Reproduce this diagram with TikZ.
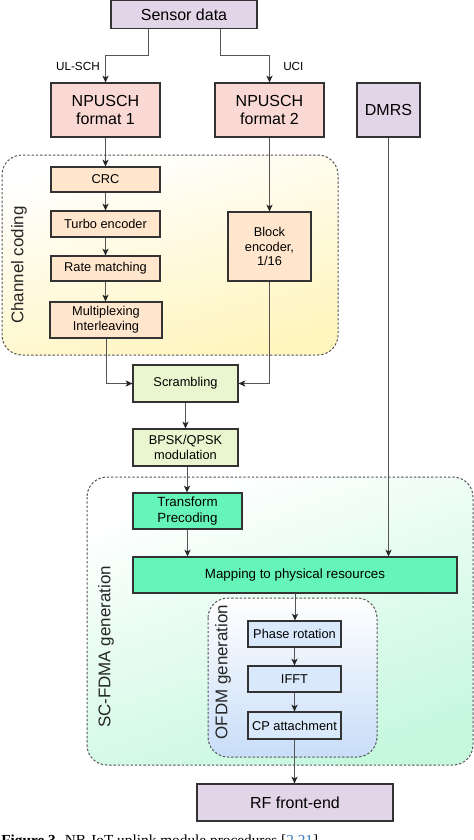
\documentclass[tikz,border=0pt]{standalone}
\usepackage{fontspec}
\setmainfont{Liberation Sans}
\newfontfamily\capfont{Liberation Serif}
\usetikzlibrary{arrows.meta,calc}
\definecolor{pinkfill}{HTML}{FAD9D5}
\definecolor{lavfill}{HTML}{E1D5E7}
\definecolor{orfill}{HTML}{FFE6CC}
\definecolor{ygfill}{HTML}{EAF6D0}
\definecolor{mintfill}{HTML}{66F5B8}
\definecolor{bluefill}{HTML}{DAE8FC}
\definecolor{ccbot}{HTML}{FFF5BE}
\definecolor{scbot}{HTML}{C6F8DE}
\definecolor{ofbot}{HTML}{C8DDF8}
\definecolor{edge}{HTML}{333333}
\definecolor{wire}{HTML}{555555}
\definecolor{citeblue}{HTML}{3B7BC0}
\begin{document}
\begin{tikzpicture}[x=0.75pt,y=-0.75pt,
  box/.style={draw=edge,line width=0.9pt,inner sep=0pt,align=center,
    font=\fontsize{9.6}{11}\selectfont},
  bigbox/.style={box,font=\fontsize{12}{13.8}\selectfont},
  arr/.style={draw=wire,line width=0.75pt,-{Stealth[length=5pt,width=4.6pt,inset=1.2pt,color=black!85]}},
  grp/.style={draw=wire,line width=0.75pt,dash pattern=on 1.8pt off 1.4pt,rounded corners=15pt},
  grplabel/.style={rotate=90,font=\fontsize{12.7}{14}\selectfont,text=black!85}]
\useasboundingbox (0,0) rectangle (474,840);
\fill[white] (0,0) rectangle (474,840);
% groups
\draw[grp,top color=white,bottom color=ccbot,shading angle=15] (2,155) rectangle (338,355);
\draw[grp,top color=white,bottom color=scbot,shading angle=20] (87,477) rectangle (473,765);
\draw[grp,top color=white,bottom color=ofbot] (208,598) rectangle (377,757);
\node[grplabel] (lcc) at (19,265) {Channel coding};
\node[grplabel] (lsc) at (106,647) {SC-FDMA generation};
\node[grplabel] (lof) at (223,672) {OFDM generation};
% boxes
\node[bigbox,fill=lavfill,minimum width=146*0.75pt,minimum height=27.5*0.75pt] (sensor) at (184,14.5) {Sensor data};
\node[bigbox,fill=pinkfill,minimum width=109*0.75pt,minimum height=54*0.75pt] (np1) at (105.5,110) {NPUSCH\\format 1};
\node[bigbox,fill=pinkfill,minimum width=109*0.75pt,minimum height=54*0.75pt] (np2) at (269.5,110) {NPUSCH\\format 2};
\node[bigbox,fill=lavfill,minimum width=63*0.75pt,minimum height=54*0.75pt] (dmrs) at (388.5,110) {DMRS};
\node[box,fill=orfill,minimum width=109*0.75pt,minimum height=25*0.75pt] (crc) at (105.5,179.5) {CRC};
\node[box,fill=orfill,minimum width=109*0.75pt,minimum height=26*0.75pt] (turbo) at (105.5,224) {Turbo encoder};
\node[box,fill=orfill,minimum width=109*0.75pt,minimum height=25*0.75pt] (rate) at (105.5,268.5) {Rate matching};
\node[box,fill=orfill,minimum width=112*0.75pt,minimum height=36*0.75pt] (mux) at (106,320) {Multiplexing\\Interleaving};
\node[box,fill=orfill,minimum width=83*0.75pt,minimum height=69*0.75pt] (block) at (269.5,246.5) {Block\\encoder,\\1/16};
\node[box,fill=ygfill,minimum width=105*0.75pt,minimum height=37*0.75pt] (scr) at (185.5,383.5) {Scrambling};
\node[box,fill=ygfill,minimum width=105*0.75pt,minimum height=37*0.75pt] (bpsk) at (185.5,447.5) {BPSK/QPSK\\modulation};
\node[box,fill=mintfill,minimum width=109*0.75pt,minimum height=36*0.75pt,font=\fontsize{10}{11.5}\selectfont] (tp) at (187.5,511) {Transform\\Precoding};
\node[box,fill=mintfill,minimum width=324*0.75pt,minimum height=36*0.75pt,font=\fontsize{10}{11.5}\selectfont] (map) at (295,575) {Mapping to physical resources};
\node[box,fill=bluefill,minimum width=93*0.75pt,minimum height=26*0.75pt] (phase) at (294.5,634) {Phase rotation};
\node[box,fill=bluefill,minimum width=93*0.75pt,minimum height=26*0.75pt] (ifft) at (294.5,679) {IFFT};
\node[box,fill=bluefill,minimum width=93*0.75pt,minimum height=27*0.75pt] (cp) at (294.5,725.5) {CP attachment};
\node[bigbox,fill=lavfill,minimum width=196*0.75pt,minimum height=37*0.75pt] (rf) at (295,802.5) {RF front-end};
% labels
\node[font=\fontsize{8.8}{10}\selectfont,anchor=east,inner sep=0pt] (lul) at (100,66) {UL-SCH};
\node[font=\fontsize{8.8}{10}\selectfont,anchor=west,inner sep=0pt] (luci) at (283,66) {UCI};
% connectors
\draw[arr] ([xshift=-36*0.75pt]sensor.south) -- ++(0,27) -| (np1.north);
\draw[arr] ([xshift=36*0.75pt]sensor.south) -- ++(0,27) -| (np2.north);
\draw[arr] (np1.south) -- (crc.north);
\draw[arr] (crc.south) -- (turbo.north);
\draw[arr] (turbo.south) -- (rate.north);
\draw[arr] (rate.south) -- (rate.south |- mux.north);
\draw[arr] (np2.south) -- (block.north);
\draw[arr] (mux.south) |- (scr.west);
\draw[arr] (block.south) |- (scr.east);
\draw[arr] (scr.south) -- (bpsk.north);
\draw[arr] ([xshift=1.5*0.75pt]bpsk.south) -- ([xshift=-0.5*0.75pt]tp.north);
\draw[arr] (tp.south) -- (tp.south |- map.north);
\draw[arr] (dmrs.south) -- (dmrs.south |- map.north);
\draw[arr] (map.south) -- (map.south |- phase.north);
\draw[arr] (phase.south) -- (ifft.north);
\draw[arr] (ifft.south) -- (cp.north);
\draw[arr] (cp.south) -- (cp.south |- rf.north);
% caption (cut off by the page edge, as in the reference)
\begin{scope}
\clip (0,0) rectangle (474,840);
\node[anchor=north west,inner sep=0pt,font=\capfont\fontsize{11.5}{13}\selectfont] (cap) at (1,835) {\textbf{Figure 3.} NB-IoT uplink module procedures [\textcolor{citeblue}{2,21}].};
\end{scope}
\end{tikzpicture}
\end{document}
